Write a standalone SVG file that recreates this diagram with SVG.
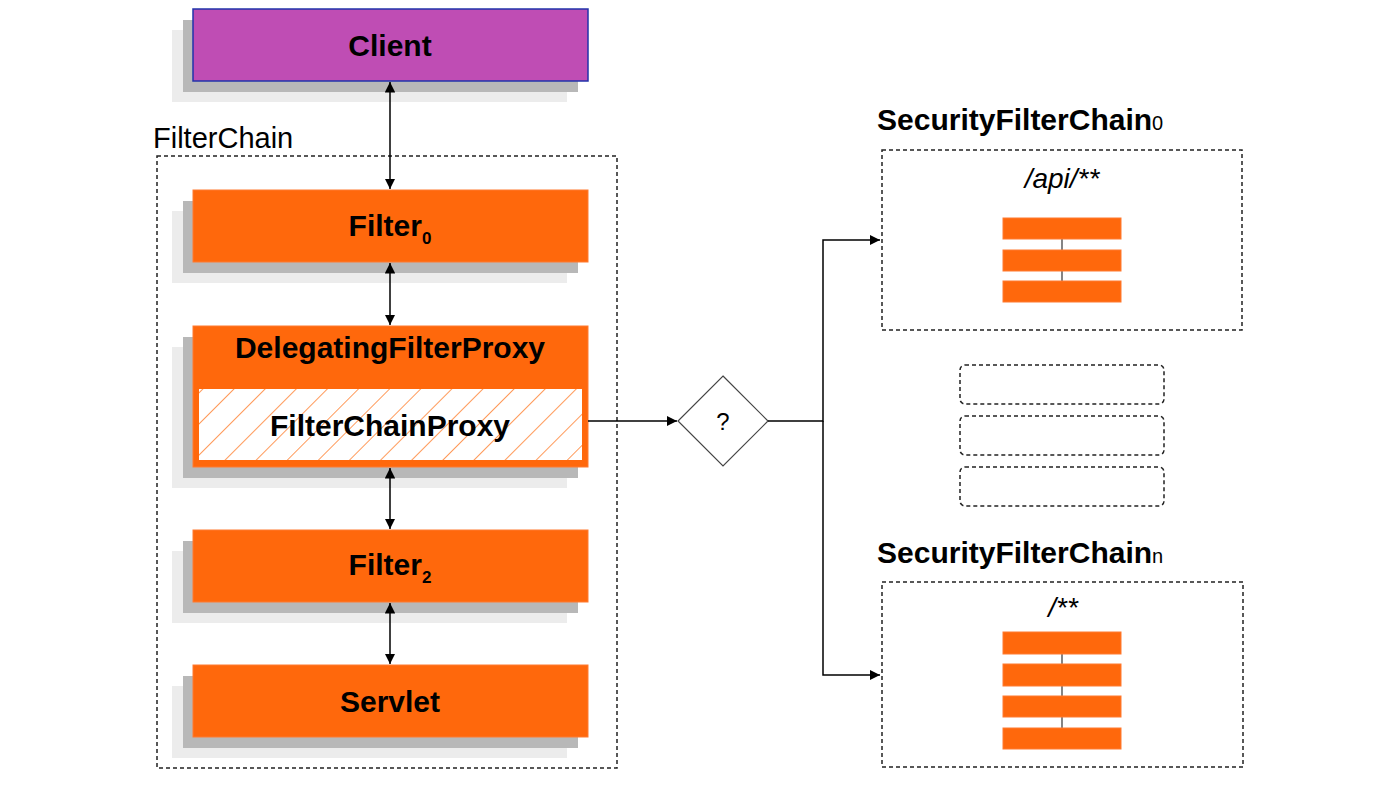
<svg xmlns="http://www.w3.org/2000/svg" width="1397" height="803" viewBox="0 0 1397 803">
<style>
.t{font-family:"Liberation Sans",Arial,sans-serif;fill:#000}
.b{font-weight:bold;font-size:30px}
.o{fill:#ff680c;stroke:#ff7a30;stroke-width:1}
.sh{fill:#b8b8b8}
.sh2{fill:#ececec}
.d{fill:none;stroke:#222;stroke-width:1.5;stroke-dasharray:4,3}
.c{fill:none;stroke:#000;stroke-width:1.5}
</style>
<defs>
<marker id="a" viewBox="0 0 10 10" refX="10" refY="5" markerWidth="7" markerHeight="7" orient="auto-start-reverse"><path d="M0,0L10,5L0,10z" fill="#000"/></marker>
<pattern id="h" width="22" height="22" patternUnits="userSpaceOnUse" patternTransform="rotate(45)"><rect width="22" height="22" fill="#fff"/><line x1="0" y1="0" x2="0" y2="22" stroke="#ff9a5a" stroke-width="2"/></pattern>
</defs>
<rect width="1397" height="803" fill="#fff"/>
<g id="filterchain">
<rect x="157" y="156" width="460" height="612" class="d"/>
<text x="153" y="148" class="t" font-size="29">FilterChain</text>
</g>
<g id="client">
<rect x="172" y="30" width="395" height="72" class="sh2"/>
<rect x="183" y="20" width="395" height="72" class="sh"/>
<rect x="193" y="9" width="395" height="72" fill="#bf4db4" stroke="#2233aa" stroke-width="1.5"/>
<text x="390" y="56" class="t b" text-anchor="middle">Client</text>
</g>
<g id="filter0">
<rect x="172" y="211" width="395" height="72" class="sh2"/>
<rect x="183" y="201" width="395" height="72" class="sh"/>
<rect x="193" y="190" width="395" height="72" class="o"/>
<text x="390" y="236" class="t b" text-anchor="middle">Filter<tspan font-size="17" dy="8">0</tspan></text>
</g>
<g id="dfp">
<rect x="172" y="347" width="395" height="141" class="sh2"/>
<rect x="183" y="337" width="395" height="141" class="sh"/>
<rect x="193" y="326" width="395" height="141" class="o"/>
<text x="390" y="358" class="t b" text-anchor="middle">DelegatingFilterProxy</text>
<g id="fcp">
<rect x="199" y="389" width="383" height="71" fill="url(#h)"/>
<text x="390" y="436" class="t b" text-anchor="middle">FilterChainProxy</text>
</g>
</g>
<g id="filter2">
<rect x="172" y="551" width="395" height="72" class="sh2"/>
<rect x="183" y="541" width="395" height="72" class="sh"/>
<rect x="193" y="530" width="395" height="72" class="o"/>
<text x="390" y="575" class="t b" text-anchor="middle">Filter<tspan font-size="17" dy="8">2</tspan></text>
</g>
<g id="servlet">
<rect x="172" y="686" width="395" height="72" class="sh2"/>
<rect x="183" y="676" width="395" height="72" class="sh"/>
<rect x="193" y="665" width="395" height="72" class="o"/>
<text x="390" y="712" class="t b" text-anchor="middle">Servlet</text>
</g>
<g id="decision">
<path d="M723,376L768,421L723,466L678,421z" fill="#fff" stroke="#444" stroke-width="1.2"/>
<text x="723" y="430" class="t" font-size="24" text-anchor="middle">?</text>
</g>
<g id="sfc0">
<text x="877" y="130" class="t b">SecurityFilterChain<tspan font-size="20" font-weight="normal">0</tspan></text>
<rect x="882" y="150" width="360" height="180" class="d"/>
<text x="1062" y="188" class="t" font-size="28" font-style="italic" text-anchor="middle">/api/**</text>
<line x1="1062" y1="239" x2="1062" y2="281" stroke="#333" stroke-width="1.2"/>
<rect x="1003" y="218" width="118" height="21" class="o"/>
<rect x="1003" y="250" width="118" height="21" class="o"/>
<rect x="1003" y="281" width="118" height="21" class="o"/>
</g>
<g id="middle">
<rect x="960" y="365" width="204" height="39" rx="5" class="d"/>
<rect x="960" y="416" width="204" height="39" rx="5" class="d"/>
<rect x="960" y="467" width="204" height="39" rx="5" class="d"/>
</g>
<g id="sfcn">
<text x="877" y="563" class="t b">SecurityFilterChain<tspan font-size="20" font-weight="normal">n</tspan></text>
<rect x="882" y="582" width="361" height="185" class="d"/>
<text x="1063" y="617" class="t" font-size="28" font-style="italic" text-anchor="middle">/**</text>
<line x1="1062" y1="654" x2="1062" y2="728" stroke="#333" stroke-width="1.2"/>
<rect x="1003" y="632" width="118" height="22" class="o"/>
<rect x="1003" y="664" width="118" height="22" class="o"/>
<rect x="1003" y="696" width="118" height="21" class="o"/>
<rect x="1003" y="728" width="118" height="21" class="o"/>
</g>
<g id="connectors">
<line x1="390" y1="82" x2="390" y2="189" class="c" marker-start="url(#a)" marker-end="url(#a)"/>
<line x1="390" y1="263" x2="390" y2="325" class="c" marker-start="url(#a)" marker-end="url(#a)"/>
<line x1="390" y1="468" x2="390" y2="529" class="c" marker-start="url(#a)" marker-end="url(#a)"/>
<line x1="390" y1="603" x2="390" y2="664" class="c" marker-start="url(#a)" marker-end="url(#a)"/>
<line x1="588" y1="421" x2="677" y2="421" class="c" stroke-width="1.2" marker-end="url(#a)"/>
<path d="M768,421H823V240H880" class="c" stroke-width="1.2" marker-end="url(#a)"/>
<path d="M823,421V675H880" class="c" stroke-width="1.2" marker-end="url(#a)"/>
</g>
</svg>
